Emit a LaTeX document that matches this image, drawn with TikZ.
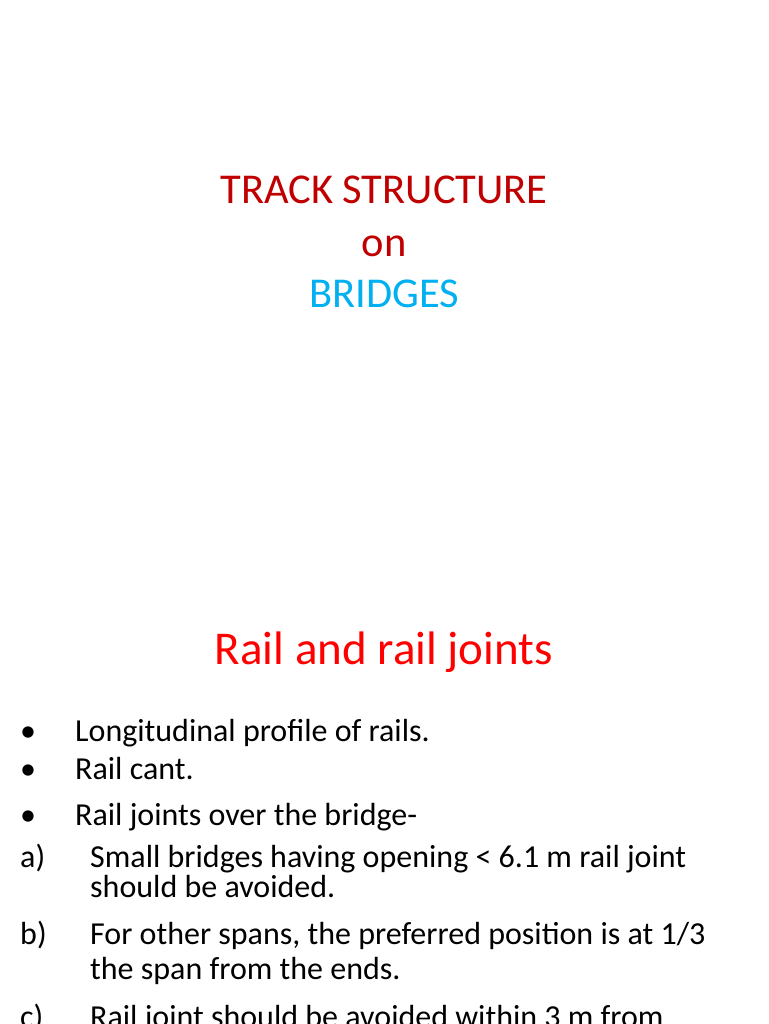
\documentclass[tikz,border=0pt]{standalone}
\usepackage{fontspec}
\setmainfont{Carlito}
\definecolor{dred}{RGB}{192,0,0}
\definecolor{lblue}{RGB}{0,176,240}
\definecolor{bred}{RGB}{255,0,0}
\begin{document}
\begin{tikzpicture}[x=1pt,y=-1pt,
  ttl/.style={font=\fontsize{42.5}{48}\selectfont,anchor=base},
  body/.style={font=\fontsize{32}{38}\selectfont,anchor=base west,inner sep=0pt}]
\fill[white] (0,0) rectangle (768,1024);
\useasboundingbox (0,0) rectangle (768,1024);
\node[ttl,text=dred] (t1) at (384,204) {TRACK STRUCTURE};
\node[ttl,text=dred] (t2) at (384,256) {on};
\node[ttl,text=lblue] (t3) at (384,307) {BRIDGES};
\node[ttl,text=bred,font=\fontsize{47}{54}\selectfont] (h) at (384,664) {Rail and rail joints};
\node[body] (b1) at (20,741) {•};
\node[body] (l1) at (75,741) {Longitudinal profile of rails.};
\node[body] (b2) at (20,779) {•};
\node[body] (l2) at (75,779) {Rail cant.};
\node[body] (b3) at (20,825) {•};
\node[body] (l3) at (75,825) {Rail joints over the bridge-};
\node[body] (a) at (20,867) {a)};
\node[body] (la) at (90,867) {Small bridges having opening < 6.1 m rail joint};
\node[body] (la2) at (90,897) {should be avoided.};
\node[body] (b) at (20,944) {b)};
\node[body] (lb) at (90,944) {For other spans, the preferred position is at 1/3};
\node[body] (lb2) at (90,979) {the span from the ends.};
\node[body] (c) at (20,1027) {c)};
\node[body] (lc) at (90,1027) {Rail joint should be avoided within 3 m from};
\end{tikzpicture}
\end{document}
